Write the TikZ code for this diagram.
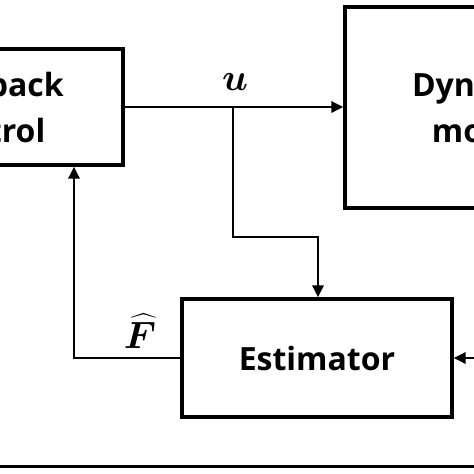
\RequirePackage{fix-cm}
\documentclass[tikz,border=0pt]{standalone}
\usepackage{fontspec}
\usepackage{amsmath,bm}
\setmainfont{Open Sans}
\usetikzlibrary{arrows.meta}
\tikzset{
  blk/.style={draw, line width=3.2pt, rectangle, inner sep=0pt, align=center,
    font=\fontsize{32}{46}\selectfont\bfseries},
  conn/.style={line width=2.8pt},
  arr/.style={conn, -{Triangle[length=12pt,width=11pt]}},
  mlabel/.style={inner sep=0pt, font=\fontsize{38}{40}\selectfont}
}
\begin{document}
\begin{tikzpicture}[x=1pt,y=-1pt]
\useasboundingbox (0,0) rectangle (474,474);
\clip (0,0) rectangle (474,474);
\fill[white] (0,0) rectangle (474,474);
\node[blk, minimum width=270pt, minimum height=116pt] (fb) at (-12,107) {Feedback\\control};
\node[blk, minimum width=274pt, minimum height=201pt] (dyn) at (482,107.5) {Dynamic\\model};
\node[blk, minimum width=270pt, minimum height=118pt] (est) at (317,358) {Estimator};
\coordinate (b1) at (233,107);
\coordinate (b2) at (318,237);
\coordinate (fx) at (74,0);
\coordinate (rin) at (490,358);
\coordinate (bl) at (-5,466);
\coordinate (br) at (480,466);
\draw[arr] (fb.east) -- (dyn.west |- fb.east);
\draw[arr] (b1) |- (b2) -- (est.north -| b2);
\draw[arr] (est.west) -| (fb.south -| fx);
\draw[arr] (rin) -- (est.east);
\draw[line width=3pt] (bl) -- (br);
\node[mlabel] (u) at (235,82) {$\bm{u}$};
\node[mlabel] (fh) at (140,331) {$\widehat{\bm{F}}$};
\end{tikzpicture}
\end{document}
